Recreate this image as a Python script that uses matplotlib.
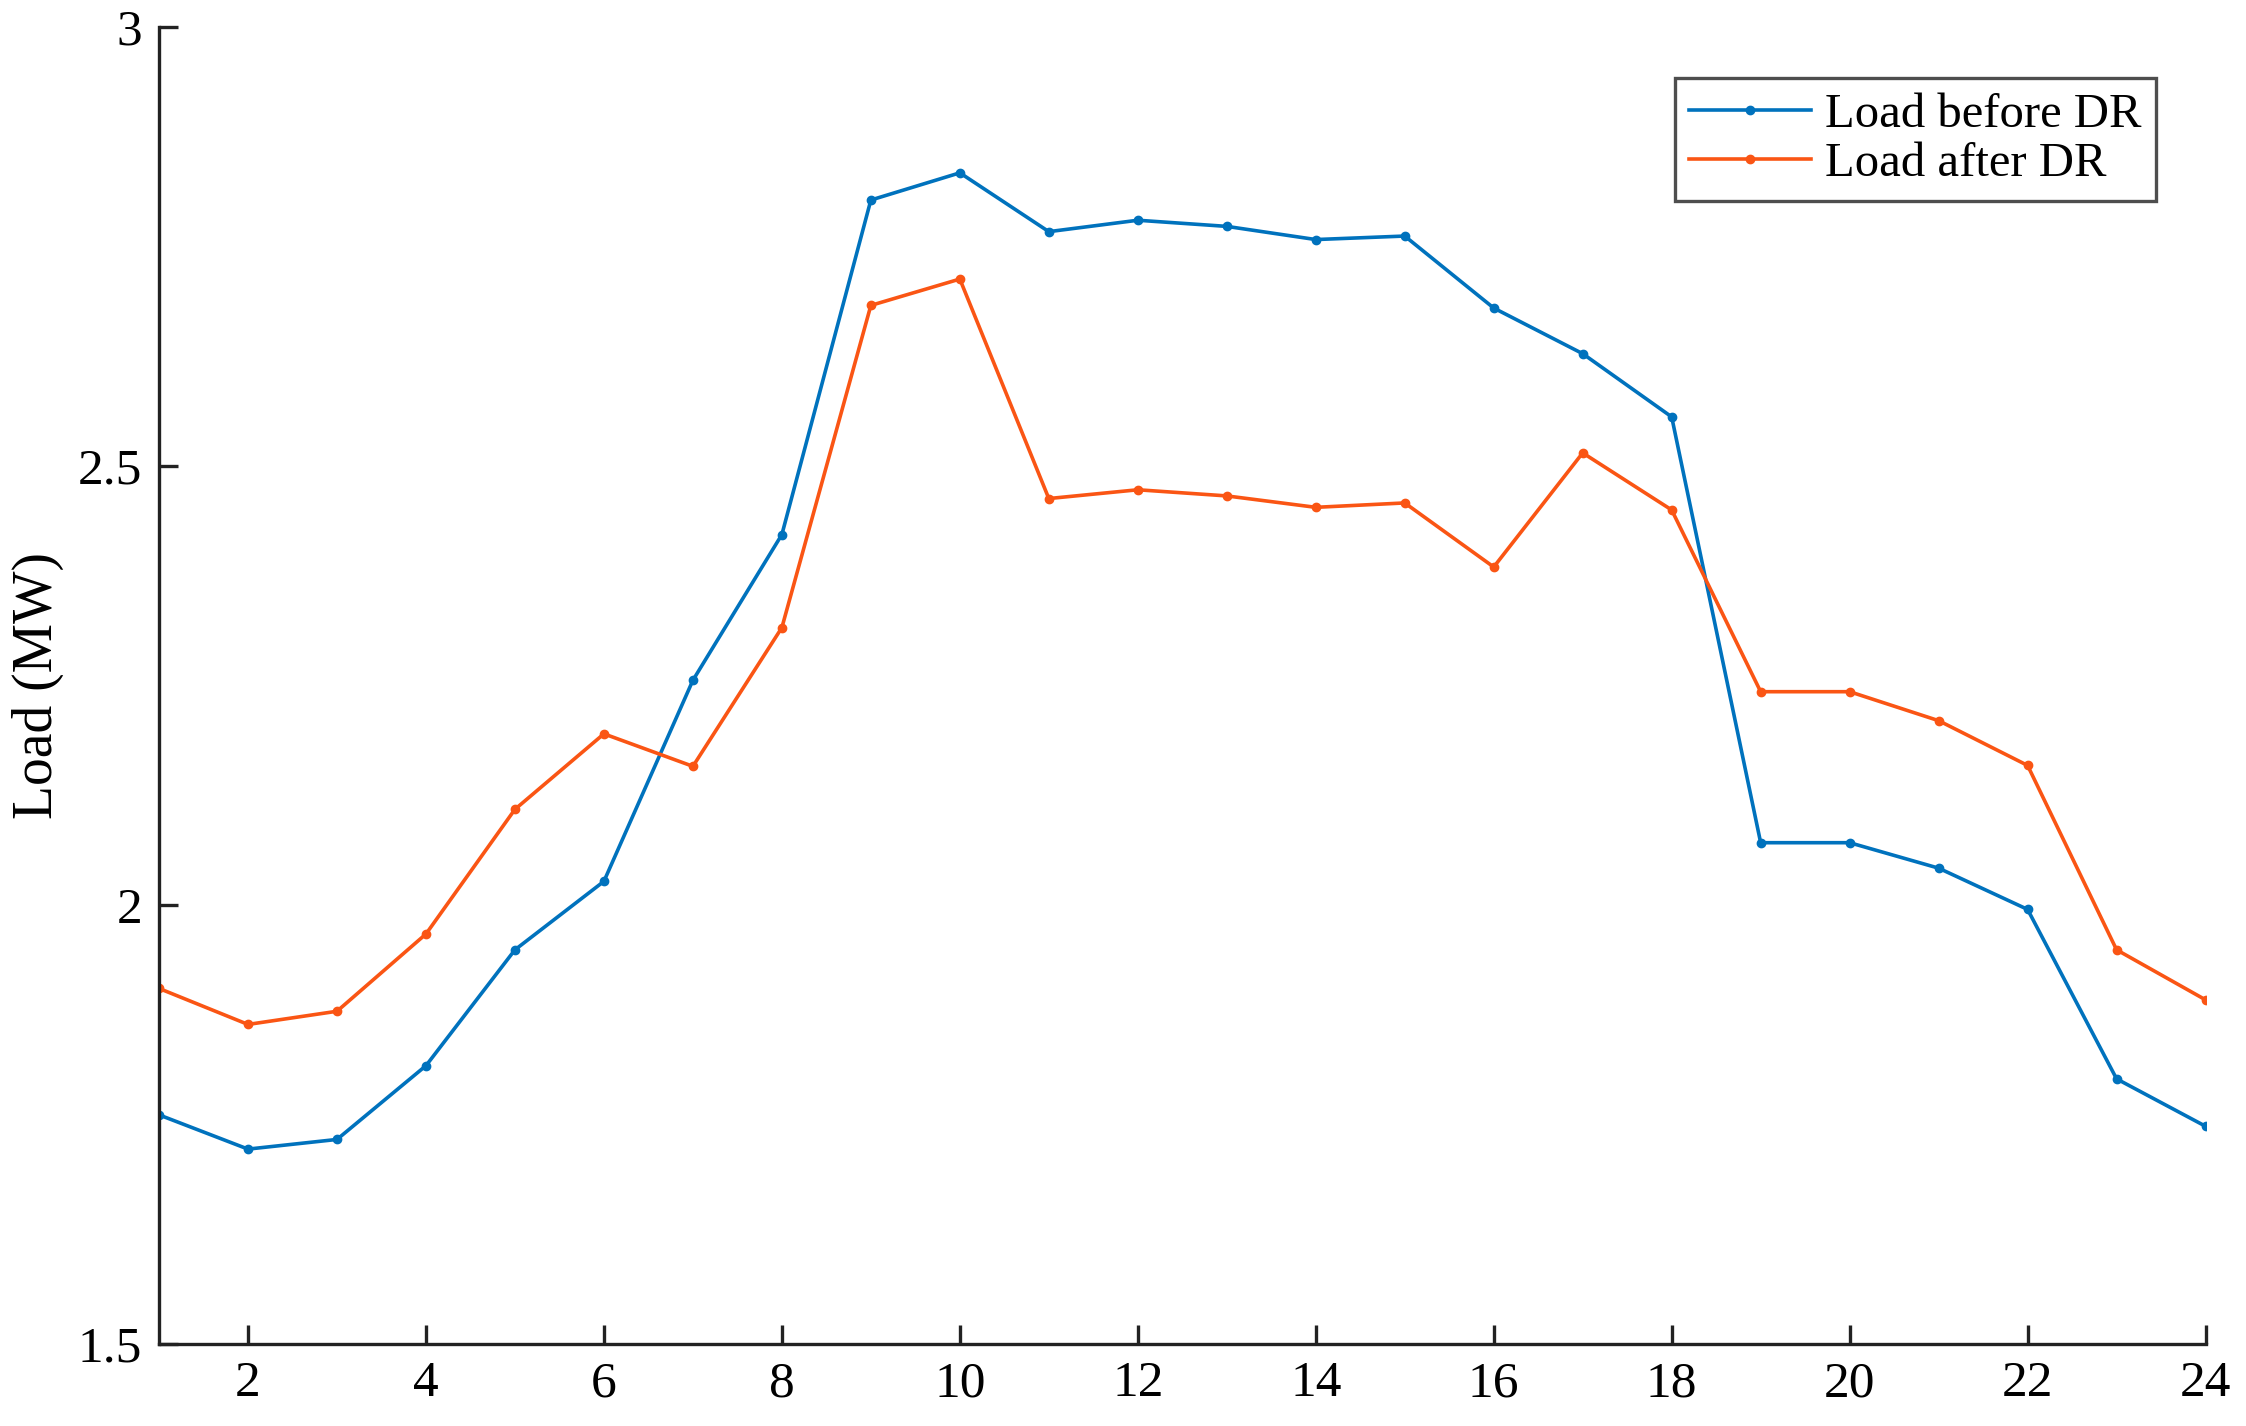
import numpy as np
import matplotlib
matplotlib.use("Agg")
import matplotlib.pyplot as plt

plt.rcParams['font.family'] = ['Liberation Serif', 'DejaVu Serif']

# hours and load (MW)
hours = list(range(1, 25))
load_before = [1.761, 1.722, 1.733, 1.817, 1.949, 2.027, 2.256, 2.422, 2.803, 2.834,
               2.767, 2.780, 2.773, 2.758, 2.762, 2.680, 2.628, 2.556, 2.071, 2.071,
               2.042, 1.995, 1.802, 1.748]
load_after = [1.905, 1.864, 1.879, 1.967, 2.109, 2.195, 2.158, 2.316, 2.683, 2.713,
              2.463, 2.473, 2.466, 2.453, 2.458, 2.385, 2.515, 2.450, 2.243, 2.243,
              2.210, 2.159, 1.949, 1.892]
labels = ['Load before DR', 'Load after DR']

fig = plt.figure(figsize=(22.46, 14.26), dpi=100)
ax = fig.add_axes([0.0708, 0.0575, 0.9112, 0.9235])

ax.plot(hours, load_before, color='#0072BD', lw=2.6, marker='o', ms=6, label=labels[0])
ax.plot(hours, load_after, color='#FA5514', lw=2.6, marker='o', ms=6, label=labels[1])

ax.set_xlim(1, 24)
ax.set_ylim(1.5, 3)
ax.set_xticks(range(2, 25, 2))
ax.set_yticks([1.5, 2, 2.5, 3])
ax.set_yticklabels(['1.5', '2', '2.5', '3'])
ax.set_ylabel('Load (MW)', fontsize=40, labelpad=10)

for s in ['top', 'right']:
    ax.spines[s].set_visible(False)
for s in ['left', 'bottom']:
    ax.spines[s].set_linewidth(2.4)
    ax.spines[s].set_color('#222222')
ax.tick_params(direction='in', length=14, width=2.4, labelsize=37, color='#222222', pad=12)

leg = ax.legend(loc='upper right', bbox_to_anchor=(0.976, 0.961), borderaxespad=0,
                fontsize=35, frameon=True, fancybox=False, edgecolor='#222222',
                handlelength=2.5, borderpad=0.3, labelspacing=0.1, handletextpad=0.3)
leg.get_frame().set_linewidth(2.4)

fig.savefig('out.png', dpi=100)
